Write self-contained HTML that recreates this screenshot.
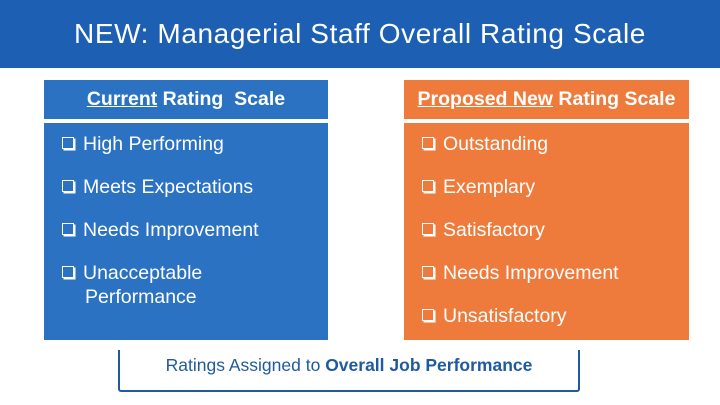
<!DOCTYPE html>
<html><head><meta charset="utf-8"><style>
body{margin:0;width:720px;height:405px;position:relative;background:#fff;font-family:"Liberation Sans",sans-serif;overflow:hidden}
.hdr{position:absolute;left:0;top:0;width:720px;height:68px;background:#1c5fb3;color:#fff;font-size:28px;letter-spacing:0.6px;text-align:center;line-height:68px}
.box{position:absolute;color:#fff}
.blue{background:#2b72c2}.orange{background:#ee7b3c}
.th{font-size:19.5px;font-weight:bold;line-height:38px;text-align:center}
.item{position:absolute;left:18px;font-size:19.5px;line-height:24px}
.cb{display:inline-block;width:10px;height:10px;border:1.6px solid #fff;margin-right:9px;vertical-align:1px;box-shadow:1.5px 1.5px 0 #fff}
.note{position:absolute;left:118px;top:350px;width:458px;height:40px;border:2px solid #1f5a9e;border-top:none;border-radius:0 0 3px 3px}
.notetext{position:absolute;left:118px;top:355px;width:462px;text-align:center;font-size:17.5px;color:#1f5a9e}
</style></head><body>
<div class="hdr">NEW: Managerial Staff Overall Rating Scale</div>
<div class="box blue th" style="left:44px;top:80px;width:284px;height:39px"><u>Current</u> Rating&nbsp; Scale</div>
<div class="box blue" style="left:44px;top:123px;width:284px;height:217px">
<div class="item" style="top:9px"><span class="cb"></span>High Performing</div>
<div class="item" style="top:52px"><span class="cb"></span>Meets Expectations</div>
<div class="item" style="top:95px"><span class="cb"></span>Needs Improvement</div>
<div class="item" style="top:138px"><span class="cb"></span>Unacceptable<br><span style="padding-left:23px">Performance</span></div>
</div>
<div class="box orange th" style="left:404px;top:80px;width:285px;height:39px"><u>Proposed New</u> Rating Scale</div>
<div class="box orange" style="left:404px;top:123px;width:285px;height:217px">
<div class="item" style="top:9px"><span class="cb"></span>Outstanding</div>
<div class="item" style="top:52px"><span class="cb"></span>Exemplary</div>
<div class="item" style="top:95px"><span class="cb"></span>Satisfactory</div>
<div class="item" style="top:138px"><span class="cb"></span>Needs Improvement</div>
<div class="item" style="top:181px"><span class="cb"></span>Unsatisfactory</div>
</div>
<div class="note"></div>
<div class="notetext">Ratings Assigned to <b>Overall Job Performance</b></div>
</body></html>
